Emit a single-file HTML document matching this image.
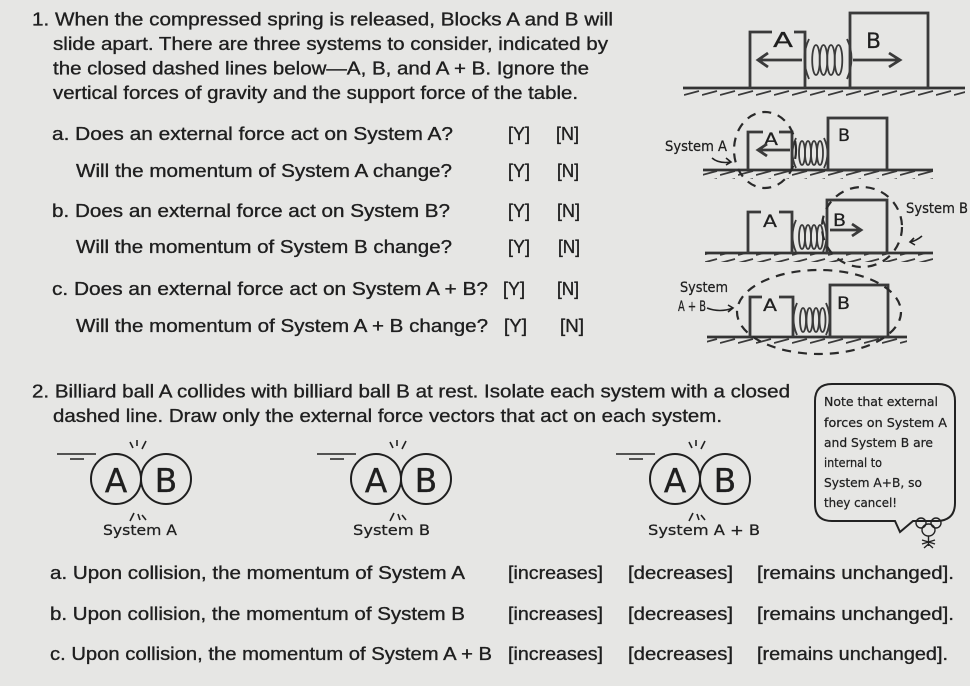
<!DOCTYPE html>
<html><head><meta charset="utf-8"><style>
html,body{margin:0;padding:0;background:#e6e6e4;}
svg{display:block;}
.t{font-family:"Liberation Sans",Arial,sans-serif;font-size:18.5px;fill:#1f1f1f;stroke:#1f1f1f;stroke-width:0.35px;}
.c{font-family:"DejaVu Sans","Liberation Sans",sans-serif;fill:#1f1f1f;stroke:#1f1f1f;stroke-width:0.25px;}
.blk{fill:none;stroke:#3a3a3a;stroke-width:2.8;stroke-linejoin:miter;}
.sp{fill:none;stroke:#3a3a3a;stroke-width:1.8;}
.gl{stroke:#333;stroke-width:2.8;}
.ds{fill:none;stroke:#2a2a2a;stroke-width:2.2;stroke-dasharray:9 7;}
.bl{fill:none;stroke:#1f1f1f;stroke-width:2;}
.tk{fill:none;stroke:#222;stroke-width:1.6;}
</style></head><body>
<svg width="970" height="686" viewBox="0 0 970 686" xmlns="http://www.w3.org/2000/svg">
<defs>
<pattern id="h" width="18" height="8" patternUnits="userSpaceOnUse">
<path d="M0 7 L15 3" stroke="#3a3a3a" stroke-width="1.8"/>
</pattern>
</defs>
<rect width="970" height="686" fill="#e6e6e4"/>

<!-- Question 1 text -->
<text class="t" x="32" y="25.5" textLength="581" lengthAdjust="spacingAndGlyphs">1. When the compressed spring is released, Blocks A and B will</text>
<text class="t" x="53" y="50" textLength="555" lengthAdjust="spacingAndGlyphs">slide apart. There are three systems to consider, indicated by</text>
<text class="t" x="53" y="74.5" textLength="536" lengthAdjust="spacingAndGlyphs">the closed dashed lines below—A, B, and A + B. Ignore the</text>
<text class="t" x="53" y="99" textLength="525" lengthAdjust="spacingAndGlyphs">vertical forces of gravity and the support force of the table.</text>

<text class="t" x="52" y="140" textLength="401" lengthAdjust="spacingAndGlyphs">a. Does an external force act on System A?</text>
<text class="t" x="508" y="140" textLength="22" lengthAdjust="spacingAndGlyphs">[Y]</text>
<text class="t" x="556" y="140" textLength="23" lengthAdjust="spacingAndGlyphs">[N]</text>

<text class="t" x="76" y="177" textLength="376" lengthAdjust="spacingAndGlyphs">Will the momentum of System A change?</text>
<text class="t" x="508" y="177" textLength="22" lengthAdjust="spacingAndGlyphs">[Y]</text>
<text class="t" x="557" y="177" textLength="22" lengthAdjust="spacingAndGlyphs">[N]</text>

<text class="t" x="52" y="217" textLength="398" lengthAdjust="spacingAndGlyphs">b. Does an external force act on System B?</text>
<text class="t" x="508" y="217" textLength="22" lengthAdjust="spacingAndGlyphs">[Y]</text>
<text class="t" x="557" y="217" textLength="23" lengthAdjust="spacingAndGlyphs">[N]</text>

<text class="t" x="76" y="253" textLength="376" lengthAdjust="spacingAndGlyphs">Will the momentum of System B change?</text>
<text class="t" x="508" y="253" textLength="22" lengthAdjust="spacingAndGlyphs">[Y]</text>
<text class="t" x="558" y="253" textLength="22" lengthAdjust="spacingAndGlyphs">[N]</text>

<text class="t" x="52" y="295" textLength="436" lengthAdjust="spacingAndGlyphs">c. Does an external force act on System A + B?</text>
<text class="t" x="503" y="295" textLength="22" lengthAdjust="spacingAndGlyphs">[Y]</text>
<text class="t" x="557" y="295" textLength="22" lengthAdjust="spacingAndGlyphs">[N]</text>

<text class="t" x="76" y="332" textLength="412" lengthAdjust="spacingAndGlyphs">Will the momentum of System A + B change?</text>
<text class="t" x="504" y="332" textLength="23" lengthAdjust="spacingAndGlyphs">[Y]</text>
<text class="t" x="560" y="332" textLength="24" lengthAdjust="spacingAndGlyphs">[N]</text>

<!-- Diagram 1 (top) -->
<rect x="683" y="89" width="282" height="8" fill="url(#h)"/>
<line class="gl" x1="683" y1="88" x2="965" y2="88"/>
<path class="blk" d="M750 88 V32 H772 M794 32 H805 V88"/>
<text class="c" x="773" y="47" font-size="20" textLength="20" lengthAdjust="spacingAndGlyphs">A</text>
<path class="blk" d="M802 60 H759 M768 53 L758 60 L768 67"/>
<path class="sp" d="M809 39 Q800 58 809 79 M847 39 Q856 58 847 79"/>
<ellipse class="sp" cx="816" cy="60" rx="3.8" ry="15"/>
<ellipse class="sp" cx="823.5" cy="60" rx="3.8" ry="15"/>
<ellipse class="sp" cx="831" cy="60" rx="3.8" ry="15"/>
<ellipse class="sp" cx="838.5" cy="60" rx="3.8" ry="15"/>
<rect class="blk" x="850" y="13" width="78" height="75"/>
<text class="c" x="866" y="48" font-size="21" textLength="15" lengthAdjust="spacingAndGlyphs">B</text>
<path class="blk" d="M853 60 H899 M889 53 L900 60 L889 67"/>

<!-- Diagram 2 (System A) -->
<rect x="703" y="171" width="230" height="8" fill="url(#h)"/>
<line class="gl" x1="703" y1="170" x2="933" y2="170"/>
<path class="blk" d="M748 170 V132 H763 M779 132 H792 V170"/>
<text class="c" x="764" y="145" font-size="17" textLength="14" lengthAdjust="spacingAndGlyphs">A</text>
<path class="blk" d="M790 150 H760 M767 144 L758 150 L767 156"/>
<path class="sp" d="M796 138 Q789 153 796 168 M824 138 Q831 153 824 168"/>
<ellipse class="sp" cx="802" cy="153" rx="3" ry="12"/>
<ellipse class="sp" cx="808" cy="153" rx="3" ry="12"/>
<ellipse class="sp" cx="814" cy="153" rx="3" ry="12"/>
<ellipse class="sp" cx="820" cy="153" rx="3" ry="12"/>
<rect class="blk" x="828" y="118" width="59" height="52"/>
<text class="c" x="838" y="141" font-size="17" textLength="12" lengthAdjust="spacingAndGlyphs">B</text>
<ellipse class="ds" cx="765" cy="150" rx="31" ry="38"/>
<text class="c" x="665" y="151" font-size="14" textLength="62" lengthAdjust="spacingAndGlyphs">System A</text>
<path class="tk" d="M712 158 Q719 164 731 162 M726 158 L731 162 L726 165"/>

<!-- Diagram 3 (System B) -->
<rect x="705" y="254" width="228" height="8" fill="url(#h)"/>
<line class="gl" x1="705" y1="253" x2="933" y2="253"/>
<path class="blk" d="M748 253 V212 H761 M779 212 H792 V253"/>
<text class="c" x="763" y="227" font-size="17" textLength="14" lengthAdjust="spacingAndGlyphs">A</text>
<path class="sp" d="M796 220 Q789 236 796 252 M823 220 Q830 236 823 252"/>
<ellipse class="sp" cx="802" cy="237" rx="3" ry="12"/>
<ellipse class="sp" cx="808" cy="237" rx="3" ry="12"/>
<ellipse class="sp" cx="814" cy="237" rx="3" ry="12"/>
<ellipse class="sp" cx="820" cy="237" rx="3" ry="12"/>
<rect class="blk" x="827" y="200" width="60" height="53"/>
<text class="c" x="833" y="226" font-size="17" textLength="13" lengthAdjust="spacingAndGlyphs">B</text>
<path class="blk" d="M830 230 H860 M852 224 L861 230 L852 236"/>
<ellipse class="ds" cx="862" cy="227" rx="40" ry="40"/>
<text class="c" x="906" y="213" font-size="14" textLength="62" lengthAdjust="spacingAndGlyphs">System B</text>
<path class="tk" d="M922 236 Q916 241 910 242 M914 238 L910 242 L915 245"/>

<!-- Diagram 4 (System A+B) -->
<rect x="707" y="338" width="200" height="8" fill="url(#h)"/>
<line class="gl" x1="707" y1="337" x2="907" y2="337"/>
<path class="blk" d="M750 337 V297 H762 M779 297 H793 V337"/>
<text class="c" x="763" y="311" font-size="17" textLength="14" lengthAdjust="spacingAndGlyphs">A</text>
<path class="sp" d="M797 303 Q790 319 797 335 M826 303 Q833 319 826 335"/>
<ellipse class="sp" cx="803" cy="320" rx="3" ry="12"/>
<ellipse class="sp" cx="809.5" cy="320" rx="3" ry="12"/>
<ellipse class="sp" cx="816" cy="320" rx="3" ry="12"/>
<ellipse class="sp" cx="822.5" cy="320" rx="3" ry="12"/>
<rect class="blk" x="830" y="285" width="58" height="52"/>
<text class="c" x="837" y="309" font-size="17" textLength="13" lengthAdjust="spacingAndGlyphs">B</text>
<ellipse class="ds" cx="819" cy="312" rx="82" ry="42"/>
<text class="c" x="680" y="292" font-size="14" textLength="48" lengthAdjust="spacingAndGlyphs">System</text>
<text class="c" x="678" y="311" font-size="14" textLength="28" lengthAdjust="spacingAndGlyphs">A + B</text>
<path class="tk" d="M707 308 Q720 313 733 308 M728 305 L733 308 L728 312"/>

<!-- Question 2 text -->
<text class="t" x="32" y="397.5" textLength="758" lengthAdjust="spacingAndGlyphs">2. Billiard ball A collides with billiard ball B at rest. Isolate each system with a closed</text>
<text class="t" x="53" y="422" textLength="669" lengthAdjust="spacingAndGlyphs">dashed line. Draw only the external force vectors that act on each system.</text>

<!-- Billiard: System A -->
<g>
<circle class="bl" cx="116" cy="479" r="25"/>
<circle class="bl" cx="166" cy="479" r="25"/>
<text class="c" x="116" y="492" font-size="33" text-anchor="middle">A</text>
<text class="c" x="166" y="492" font-size="33" text-anchor="middle">B</text>
<path class="tk" d="M57 454 H96 M70 459 H84"/>
<path class="tk" d="M130 442 L133 448 M137 440 L137 446 M146 441 L142 449"/>
<path class="tk" d="M134 513 L130 521 M138 514 L140 520 M142 515 L146 520"/>
<text class="c" x="103" y="535" font-size="14" textLength="74" lengthAdjust="spacingAndGlyphs">System A</text>
</g>
<!-- Billiard: System B -->
<g transform="translate(260,0)">
<circle class="bl" cx="116" cy="479" r="25"/>
<circle class="bl" cx="166" cy="479" r="25"/>
<text class="c" x="116" y="492" font-size="33" text-anchor="middle">A</text>
<text class="c" x="166" y="492" font-size="33" text-anchor="middle">B</text>
<path class="tk" d="M57 454 H96 M70 459 H84"/>
<path class="tk" d="M130 442 L133 448 M137 440 L137 446 M146 441 L142 449"/>
<path class="tk" d="M134 513 L130 521 M138 514 L140 520 M142 515 L146 520"/>
</g>
<text class="c" x="353" y="535" font-size="14" textLength="77" lengthAdjust="spacingAndGlyphs">System B</text>
<!-- Billiard: System A+B -->
<g transform="translate(559,0)">
<circle class="bl" cx="116" cy="479" r="25"/>
<circle class="bl" cx="166" cy="479" r="25"/>
<text class="c" x="116" y="492" font-size="33" text-anchor="middle">A</text>
<text class="c" x="166" y="492" font-size="33" text-anchor="middle">B</text>
<path class="tk" d="M57 454 H96 M70 459 H84"/>
<path class="tk" d="M130 442 L133 448 M137 440 L137 446 M146 441 L142 449"/>
<path class="tk" d="M134 513 L130 521 M138 514 L140 520 M142 515 L146 520"/>
</g>
<text class="c" x="648" y="535" font-size="14" textLength="112" lengthAdjust="spacingAndGlyphs">System A + B</text>

<!-- Speech bubble -->
<path d="M832 384 Q815 384 815 401 L815 504 Q815 521 832 521 L895 521 L900 532 L913 521 L938 521 Q955 520 955 503 L955 401 Q955 384 938 384 Z" fill="none" stroke="#222" stroke-width="2"/>
<text class="c" x="824" y="406" font-size="12.5" textLength="114" lengthAdjust="spacingAndGlyphs">Note that external</text>
<text class="c" x="824" y="427" font-size="12.5" textLength="123" lengthAdjust="spacingAndGlyphs">forces on System A</text>
<text class="c" x="824" y="447" font-size="12.5" textLength="109" lengthAdjust="spacingAndGlyphs">and System B are</text>
<text class="c" x="824" y="467" font-size="12.5" textLength="58" lengthAdjust="spacingAndGlyphs">internal to</text>
<text class="c" x="824" y="487" font-size="12.5" textLength="98" lengthAdjust="spacingAndGlyphs">System A+B, so</text>
<text class="c" x="824" y="507" font-size="12.5" textLength="73" lengthAdjust="spacingAndGlyphs">they cancel!</text>
<!-- mouse -->
<g fill="none" stroke="#222" stroke-width="1.4">
<circle cx="921" cy="523" r="5"/>
<circle cx="936" cy="523" r="5"/>
<ellipse cx="928.5" cy="530" rx="6.5" ry="6"/>
<path d="M928.5 536 V546 M922 540 L935 544 M935 540 L922 544 M924 548 L928.5 544 L933 548"/>
</g>

<!-- Answer rows -->
<text class="t" x="50" y="579" textLength="415" lengthAdjust="spacingAndGlyphs">a. Upon collision, the momentum of System A</text>
<text class="t" x="508" y="579" textLength="95" lengthAdjust="spacingAndGlyphs">[increases]</text>
<text class="t" x="628" y="579" textLength="105" lengthAdjust="spacingAndGlyphs">[decreases]</text>
<text class="t" x="757" y="579" textLength="197" lengthAdjust="spacingAndGlyphs">[remains unchanged].</text>

<text class="t" x="50" y="620" textLength="415" lengthAdjust="spacingAndGlyphs">b. Upon collision, the momentum of System B</text>
<text class="t" x="508" y="620" textLength="95" lengthAdjust="spacingAndGlyphs">[increases]</text>
<text class="t" x="628" y="620" textLength="105" lengthAdjust="spacingAndGlyphs">[decreases]</text>
<text class="t" x="757" y="620" textLength="197" lengthAdjust="spacingAndGlyphs">[remains unchanged].</text>

<text class="t" x="50" y="660" textLength="442" lengthAdjust="spacingAndGlyphs">c. Upon collision, the momentum of System A + B</text>
<text class="t" x="508" y="660" textLength="95" lengthAdjust="spacingAndGlyphs">[increases]</text>
<text class="t" x="628" y="660" textLength="105" lengthAdjust="spacingAndGlyphs">[decreases]</text>
<text class="t" x="757" y="660" textLength="191" lengthAdjust="spacingAndGlyphs">[remains unchanged].</text>
</svg>
</body></html>
